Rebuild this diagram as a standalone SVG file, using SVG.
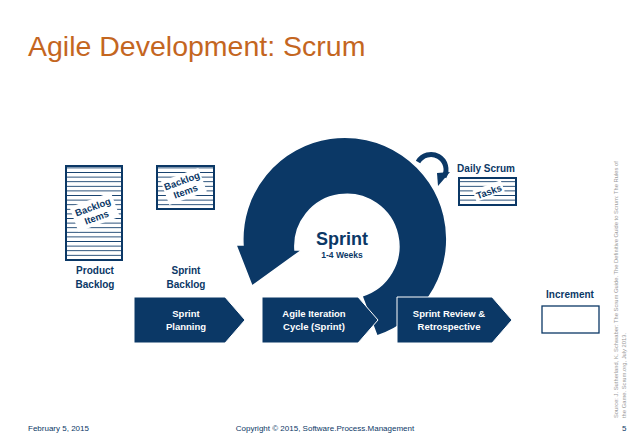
<svg xmlns="http://www.w3.org/2000/svg" width="638" height="442" viewBox="0 0 638 442">
<defs>
<style>
text{font-family:"Liberation Sans",Arial,sans-serif}
.lbl{font-size:10px;font-weight:bold;fill:#0b3866;text-anchor:middle}
.wt{font-size:9.5px;font-weight:bold;fill:#fff;text-anchor:middle}
.box{fill:#fff;stroke:#0b3866;stroke-width:2}
.ln{stroke:#0b3866;stroke-width:0.9}
.bk{font-size:9.5px;font-weight:bold;fill:#0b3866;text-anchor:middle}
.ft{font-size:8px;fill:#0b3866}
.chev{fill:#0b3866;stroke:#fff;stroke-width:1}
</style>
<pattern id="lines" width="8" height="4.6" patternUnits="userSpaceOnUse">
<line x1="0" y1="2.3" x2="8" y2="2.3" class="ln"/>
</pattern>
</defs>
<rect width="638" height="442" fill="#fff"/>
<text x="28" y="56" font-size="28.5" fill="#c4661f">Agile Development: Scrum</text>

<g id="product-backlog">
<rect x="66" y="166" width="56" height="94" class="box"/>
<rect x="67" y="167" width="54" height="92" fill="url(#lines)"/>
<g transform="translate(95,213) rotate(-20)">
<rect x="-22" y="-14" width="44" height="26" fill="#fff"/>
<text x="0" y="-3" class="bk">Backlog</text>
<text x="0" y="8" class="bk">Items</text>
</g>
<text x="95" y="274" class="lbl">Product</text>
<text x="95" y="288" class="lbl">Backlog</text>
</g>

<g id="sprint-backlog">
<rect x="157" y="166" width="57" height="43" class="box"/>
<rect x="158" y="167" width="55" height="41" fill="url(#lines)"/>
<g transform="translate(184,187) rotate(-20)">
<rect x="-20" y="-13" width="40" height="25" fill="#fff"/>
<text x="0" y="-3" class="bk">Backlog</text>
<text x="0" y="8" class="bk">Items</text>
</g>
<text x="186" y="274" class="lbl">Sprint</text>
<text x="186" y="288" class="lbl">Backlog</text>
</g>

<g id="sprint-cycle">
<path d="M 377 336 A 102 102 0 1 0 243 245 L 236 245 L 252 286 L 302 250 L 295 250 A 52 52 0 1 1 362 296 Z" fill="#0b3866" stroke="#fff" stroke-width="1.5"/>
<text x="342" y="245" font-size="18" font-weight="bold" fill="#0b3866" text-anchor="middle">Sprint</text>
<text x="342" y="258" font-size="8.5" font-weight="bold" fill="#0b3866" text-anchor="middle">1-4 Weeks</text>
</g>

<g id="daily-loop">
<path d="M 418 162 A 14 14 0 1 1 444 177" fill="none" stroke="#0b3866" stroke-width="5"/>
<path d="M 437 173 L 450 172 L 438 186 Z" fill="#0b3866"/>
</g>

<g id="daily-scrum">
<text x="486" y="172" class="lbl">Daily Scrum</text>
<rect x="459" y="178" width="57" height="27" class="box"/>
<rect x="460" y="179" width="55" height="25" fill="url(#lines)"/>
<g transform="translate(489,192) rotate(-20)">
<rect x="-15" y="-7" width="30" height="12" fill="#fff"/>
<text x="0" y="3" class="bk">Tasks</text>
</g>
</g>

<g id="sprint-planning">
<path d="M 134 297 L 225 297 L 245 320 L 225 343 L 134 343 Z" class="chev"/>
<text x="186" y="317" class="wt">Sprint</text>
<text x="186" y="330" class="wt">Planning</text>
</g>
<g id="agile-iteration">
<path d="M 262 297 L 358 297 L 378 320 L 358 343 L 262 343 Z" class="chev"/>
<text x="314" y="317" class="wt">Agile Iteration</text>
<text x="314" y="330" class="wt">Cycle (Sprint)</text>
</g>
<g id="sprint-review">
<path d="M 397 297 L 492 297 L 512 320 L 492 343 L 397 343 Z" class="chev"/>
<text x="449" y="317" class="wt">Sprint Review &amp;</text>
<text x="449" y="330" class="wt">Retrospective</text>
</g>

<g id="increment">
<text x="570" y="298" class="lbl">Increment</text>
<rect x="542" y="306" width="57" height="27" fill="#fff" stroke="#0b3866" stroke-width="1.3"/>
</g>

<g id="connectors"></g>

<g transform="translate(618,418) rotate(-90)" font-size="5.8" fill="#999">
<text x="0" y="0">Source: J. Sutherland, K. Schwaber:  The Scrum Guide. The Definitive Guide to Scrum: The Rules of</text>
<text x="0" y="8">the Game. Scrum.org, July 2013.</text>
</g>
<text x="28" y="431" class="ft">February 5, 2015</text>
<text x="325" y="431" class="ft" text-anchor="middle">Copyright © 2015, Software.Process.Management</text>
<text x="622" y="431" class="ft">5</text>
</svg>
